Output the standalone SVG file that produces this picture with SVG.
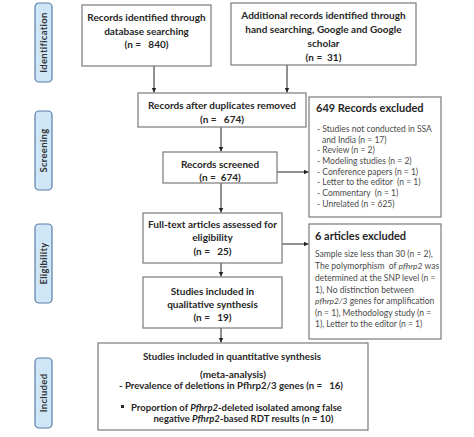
<svg xmlns="http://www.w3.org/2000/svg" width="474" height="437" viewBox="0 0 474 437">
<defs>
<marker id="ah" markerWidth="6" markerHeight="6" refX="5" refY="3" orient="auto" markerUnits="userSpaceOnUse">
<path d="M0,0.5 L5,3 L0,5.5 Z" fill="#222"/>
</marker>
<style>
.box{fill:#fff;stroke:#7a7a7a;stroke-width:1.2}
.side{fill:#cfe6f6;stroke:#5a7fa8;stroke-width:1.2}
.sl{font-family:Lato,"Liberation Sans",sans-serif;font-size:9.5px;font-weight:bold;fill:#333;text-anchor:middle;letter-spacing:0.3px}
.t{font-family:Lato,"Liberation Sans",sans-serif;font-size:10px;font-weight:bold;fill:#262626;text-anchor:middle;white-space:pre}
.l{text-anchor:start}
.b{font-size:9.5px}
.h{font-family:Lato,"Liberation Sans",sans-serif;font-size:11px;font-weight:bold;fill:#262626;white-space:pre}
.s{font-family:Lato,"Liberation Sans",sans-serif;font-size:8.5px;fill:#4a4a4a;white-space:pre}
.i{font-style:italic}
.c{stroke:#222;stroke-width:1;fill:none;marker-end:url(#ah)}
</style>
</defs>
<rect width="474" height="437" fill="#fff"/>

<g id="phase-identification"><rect class="side" x="35" y="3" width="17" height="79" rx="4"/><text class="sl" transform="translate(46.5,42.5) rotate(-90)">Identification</text></g>
<g id="phase-screening"><rect class="side" x="35" y="111" width="17" height="79" rx="4"/><text class="sl" transform="translate(46.5,150.5) rotate(-90)">Screening</text></g>
<g id="phase-eligibility"><rect class="side" x="35" y="224" width="17" height="79" rx="4"/><text class="sl" transform="translate(46.5,263.5) rotate(-90)">Eligibility</text></g>
<g id="phase-included"><rect class="side" x="35" y="358" width="17" height="70" rx="4"/><text class="sl" transform="translate(46.5,393) rotate(-90)">Included</text></g>

<g id="connectors">
<path class="c" d="M154,66 V92.5"/>
<path class="c" d="M287,65 V92.5"/>
<path class="c" d="M221,127 V151.5"/>
<path class="c" d="M221,183 V212.5"/>
<path class="c" d="M221,263 V276.5"/>
<path class="c" d="M221,328 V342.5"/>
<path class="c" d="M277,172 H308.5"/>
<path class="c" d="M282,244 H308.5"/>
</g>

<g id="n-database">
<rect class="box" x="82" y="5" width="129" height="61"/>
<text class="t" x="146.5" y="21">Records identified through</text>
<text class="t" x="146.5" y="34.5">database searching</text>
<text class="t" x="146.5" y="48">(n =   840)</text>
</g>

<g id="n-additional">
<rect class="box" x="231" y="3" width="185" height="62"/>
<text class="t" x="323.5" y="19">Additional records identified through</text>
<text class="t" x="323.5" y="33">hand searching, Google and Google</text>
<text class="t" x="323.5" y="47">scholar</text>
<text class="t" x="323.5" y="60.5">(n =  31)</text>
</g>

<g id="n-duplicates">
<rect class="box" x="138" y="93" width="168" height="34"/>
<text class="t" x="222" y="108.5">Records after duplicates removed</text>
<text class="t" x="222" y="122.5">(n =   674)</text>
</g>

<g id="n-excluded649">
<rect class="box" x="309" y="97" width="132" height="120"/>
<text class="h" x="316" y="112">649 Records excluded</text>
<text class="s" x="317" y="132">- Studies not conducted in SSA</text>
<text class="s" x="322" y="142.5">and India (n = 17)</text>
<text class="s" x="317" y="153">- Review (n = 2)</text>
<text class="s" x="317" y="164">- Modeling studies (n = 2)</text>
<text class="s" x="317" y="174.5">- Conference papers (n = 1)</text>
<text class="s" x="317" y="185">- Letter to the editor  (n = 1)</text>
<text class="s" x="317" y="195.5">- Commentary  (n = 1)</text>
<text class="s" x="317" y="206.5">- Unrelated (n = 625)</text>
</g>

<g id="n-screened">
<rect class="box" x="163" y="152" width="114" height="31"/>
<text class="t" x="220" y="167.5">Records screened</text>
<text class="t" x="220" y="181">(n =  674)</text>
</g>

<g id="n-fulltext">
<rect class="box" x="143" y="213" width="139" height="50"/>
<text class="t" x="212.5" y="227.5">Full-text articles assessed for</text>
<text class="t" x="212.5" y="240.5">eligibility</text>
<text class="t" x="212.5" y="254.5">(n =   25)</text>
</g>

<g id="n-excluded6">
<rect class="box" x="309" y="224" width="132" height="115"/>
<text class="h" x="315" y="240">6 articles excluded</text>
<text class="s" x="315" y="257">Sample size less than 30 (n = 2),</text>
<text class="s" x="315" y="269">The polymorphism  of <tspan class="i">pfhrp2</tspan> was</text>
<text class="s" x="315" y="280.5">determined at the SNP level (n =</text>
<text class="s" x="315" y="292.5">1), No distinction between</text>
<text class="s" x="315" y="304"><tspan class="i">pfhrp2/3</tspan> genes for amplification</text>
<text class="s" x="315" y="315.5">(n = 1), Methodology study (n =</text>
<text class="s" x="315" y="327">1), Letter to the editor (n = 1)</text>
</g>

<g id="n-qualitative">
<rect class="box" x="143" y="277" width="139" height="51"/>
<text class="t" x="212.5" y="294.5">Studies included in</text>
<text class="t" x="212.5" y="307.5">qualitative synthesis</text>
<text class="t" x="212.5" y="321">(n =   19)</text>
</g>

<g id="n-quantitative">
<rect class="box" x="98" y="343" width="270" height="87"/>
<text class="t l" x="143" y="360" textLength="178" lengthAdjust="spacingAndGlyphs">Studies included in quantitative synthesis</text>
<text class="t l" x="200" y="377.5" textLength="66" lengthAdjust="spacingAndGlyphs">(meta-analysis)</text>
<text class="t l" x="119" y="389" textLength="224" lengthAdjust="spacingAndGlyphs">- Prevalence of deletions in Pfhrp2/3 genes (n =   16)</text>
<rect x="121" y="405" width="3" height="3" fill="#262626"/>
<text class="t b" x="236.5" y="410.5">Proportion of <tspan class="i">Pfhrp2</tspan>-deleted isolated among false</text>
<text class="t b" x="243.5" y="422">negative <tspan class="i">Pfhrp2</tspan>-based RDT results (n = 10)</text>
</g>
</svg>
